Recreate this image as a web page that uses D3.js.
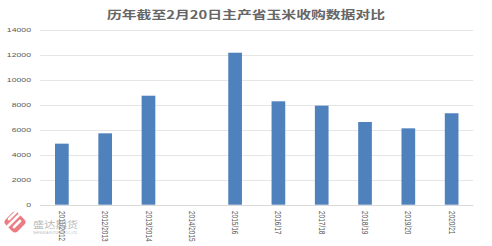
<!DOCTYPE html>
<html><head><meta charset="utf-8">
<script src="https://cdn.jsdelivr.net/npm/d3@7"></script>
<style>html,body{margin:0;padding:0;background:#fff;}svg{display:block;}</style>
</head><body>
<svg id="chart" width="492" height="246"></svg>
<script>
const titleText = "历年截至2月20日主产省玉米收购数据对比";
const categories = ["2011/2012","2012/2013","2013/2014","2014/2015","2015/16","2016/17","2017/18","2018/19","2019/20","2020/21"];
const values = [4900, 5730, 8750, 0, 12200, 8300, 7950, 6640, 6130, 7340];
const yTicks = [0, 2000, 4000, 6000, 8000, 10000, 12000, 14000];

const svg = d3.select("#chart");
const plotLeft = 40.2, plotRight = 473.3, plotTop = 30.3, plotBottom = 204.7;

const x = d3.scaleBand().domain(categories).range([plotLeft, plotRight]).paddingInner(0.684).paddingOuter(0.342);
const y = d3.scaleLinear().domain([0, 14000]).range([plotBottom, plotTop]);

// gridlines
svg.append("g").selectAll("line").data(yTicks).join("line")
  .attr("x1", plotLeft).attr("x2", plotRight)
  .attr("y1", d => Math.round(y(d)) + 0.5).attr("y2", d => Math.round(y(d)) + 0.5)
  .attr("stroke", d => d === 0 ? "#d9d9d9" : "#e6e6e6").attr("stroke-width", 1);

// y tick labels
svg.append("g").selectAll("text").data(yTicks).join("text")
  .attr("transform", d => `translate(31,${y(d)}) scale(1.45,1)`)
  .attr("dy", "0.35em")
  .attr("text-anchor", "end")
  .attr("font-family", "Liberation Sans, Arial, sans-serif")
  .attr("font-size", 6)
  .attr("fill", "#595959")
  .text(d => d);

// bars
svg.append("g").selectAll("rect").data(values).join("rect")
  .attr("x", (d, i) => x(categories[i]))
  .attr("width", x.bandwidth())
  .attr("y", d => y(d))
  .attr("height", d => y(0) - y(d))
  .attr("fill", "#4f81bd");

// x labels
svg.append("g").selectAll("text").data(categories).join("text")
  .attr("transform", d => `translate(${x(d) + x.bandwidth() / 2},211) scale(1.3,1) rotate(90)`)
  .attr("dy", "0.35em")
  .attr("text-anchor", "start")
  .attr("font-family", "Liberation Sans, Arial, sans-serif")
  .attr("font-size", 6.5)
  .attr("fill", "#595959")
  .text(d => d);

// title
svg.append("text")
  .attr("x", 107).attr("y", 19)
  .attr("textLength", 278).attr("lengthAdjust", "spacingAndGlyphs")
  .attr("font-family", "Noto Sans CJK SC, sans-serif")
  .attr("font-weight", "bold")
  .attr("font-size", 11)
  .attr("fill", "#666666")
  .text(titleText);

// watermark logo
const logo = svg.append("g").attr("opacity", 0.7);
logo.append("rect")
  .attr("x", -8.5).attr("y", -8.5).attr("width", 17).attr("height", 17).attr("rx", 4)
  .attr("transform", "translate(15,222) rotate(45)")
  .attr("fill", "#e4454c");
logo.append("path")
  .attr("d", "M9,219 L16,212 M8,226 L21,213 M14,227 L20,221")
  .attr("stroke", "#fff").attr("stroke-width", 2.6).attr("stroke-linecap", "round").attr("fill", "none");
logo.append("text")
  .attr("x", 33).attr("y", 228)
  .attr("textLength", 45).attr("lengthAdjust", "spacingAndGlyphs")
  .attr("font-family", "Noto Sans CJK SC, sans-serif")
  .attr("font-size", 9)
  .attr("fill", "#9a9a9a")
  .text("盛达期货");
logo.append("text")
  .attr("x", 33).attr("y", 234)
  .attr("textLength", 45).attr("lengthAdjust", "spacingAndGlyphs")
  .attr("font-family", "Liberation Sans, sans-serif")
  .attr("font-size", 2.6)
  .attr("fill", "#a0a0a0")
  .text("SHENGDA FUTURES CO.,LTD.");
</script>
</body></html>
